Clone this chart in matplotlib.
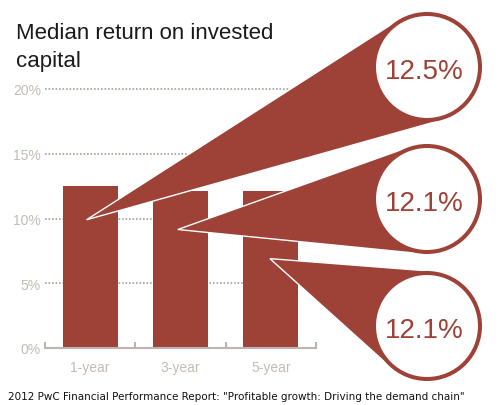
import numpy as np
import matplotlib.pyplot as plt
from matplotlib.patches import Circle, Polygon

periods = ['1-year', '3-year', '5-year']
returns = [12.5, 12.1, 12.1]
y_ticks = [0, 5, 10, 15, 20]
y_tick_labels = ['0%', '5%', '10%', '15%', '20%']
title_lines = ['Median return on invested', 'capital']
source = '2012 PwC Financial Performance Report: "Profitable growth: Driving the demand chain"'

red = '#9e4238'
grey = '#bdb5ad'

# callout layout: where each pointer starts (data coords) and bubble centres (pixels)
tip_dx = [-0.04, -0.03, -0.01]
tip_y = [9.9, 9.15, 6.9]
bubble_xy = [(427, 68), (427, 200), (427, 327)]
bubble_r = 55

W, H = 500, 406
fig = plt.figure(figsize=(W / 100, H / 100), dpi=100)
ax = fig.add_axes([45 / W, (H - 349) / H, 271 / W, 259 / H])

x = np.arange(len(periods))
ax.bar(x, returns, width=0.61, color=red, zorder=2)
ax.hlines(y_ticks[1:], -0.5, 2.2, colors='#a9a098', lw=1.2,
          linestyles=(0, (1, 1.1)), zorder=1, clip_on=False)
ax.set_xlim(-0.5, 2.5)
ax.set_ylim(0, 20)
ax.set_yticks(y_ticks)
ax.set_yticklabels(y_tick_labels)
ax.set_xticks(x)
ax.set_xticklabels(periods)
ax.set_xticks([-0.5, 0.5, 1.5, 2.5], minor=True)
ax.tick_params(axis='y', length=0, pad=3, labelsize=10, labelcolor='#c4bcb4')
ax.tick_params(axis='x', which='major', length=0, pad=9, labelsize=10, labelcolor='#c4bcb4')
ax.tick_params(axis='x', which='minor', direction='in', length=4.5, width=1.5, color=grey)
for s in ['left', 'right', 'top']:
    ax.spines[s].set_visible(False)
ax.spines['bottom'].set_color(grey)
ax.spines['bottom'].set_linewidth(1.5)
for lbl in ax.get_xticklabels() + ax.get_yticklabels():
    lbl.set_family('Liberation Sans')

# overlay in pixel units for the callouts and text
ov = fig.add_axes([0, 0, 1, 1], zorder=3)
ov.set_xlim(0, W)
ov.set_ylim(H, 0)
ov.axis('off')
ov.patch.set_visible(False)

for i in range(len(returns)):
    dx, dy = ax.transData.transform((x[i] + tip_dx[i], tip_y[i]))
    px, py = dx, H - dy
    cx, cy = bubble_xy[i]
    d = np.hypot(cx - px, cy - py)
    th = np.arctan2(cy - py, cx - px)
    a = np.arcsin(bubble_r / d)
    L = np.sqrt(d ** 2 - bubble_r ** 2)
    t1 = (px + L * np.cos(th - a), py + L * np.sin(th - a))
    t2 = (px + L * np.cos(th + a), py + L * np.sin(th + a))
    ov.add_patch(Polygon([(px, py), t1, (cx, cy), t2], closed=True,
                         facecolor=red, edgecolor='white', lw=1.0, zorder=2 + i))

for i in range(len(returns)):
    cx, cy = bubble_xy[i]
    ov.add_patch(Circle((cx, cy), bubble_r - 2, facecolor='white', edgecolor=red,
                        lw=2.9, zorder=10))
    ov.text(cx - 3, cy + 11, f'{returns[i]:.1f}%', ha='center', va='baseline',
            fontsize=20, color=red, family='Liberation Sans', zorder=11)

ov.text(16, 39, title_lines[0], fontsize=16, color='#1a1a1a', family='Liberation Sans', va='baseline')
ov.text(16, 67, title_lines[1], fontsize=16, color='#1a1a1a', family='Liberation Sans', va='baseline')
ov.text(8, 400, source, fontsize=7.5, color='#111111', family='DejaVu Sans', va='baseline')

fig.savefig('out.png', dpi=100)
